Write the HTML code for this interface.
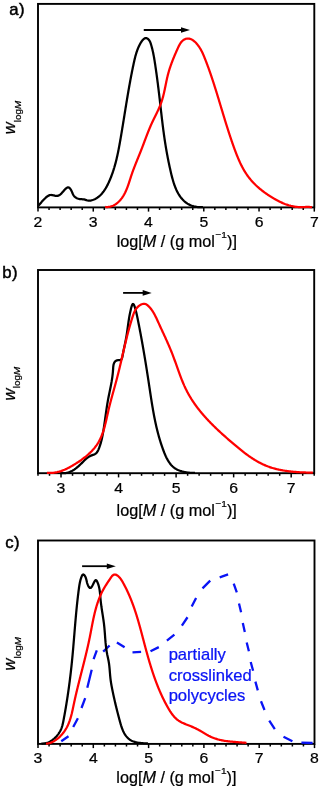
<!DOCTYPE html>
<html><head><meta charset="utf-8"><title>GPC traces</title>
<style>
html,body{margin:0;padding:0;background:#fff;}
body{width:321px;height:792px;position:relative;overflow:hidden;}
</style></head><body>
<svg width="321" height="792" viewBox="0 0 321 792" style="position:absolute;left:0;top:0">
<g font-family='"Liberation Sans", Arial, sans-serif' fill="#000" stroke="#000" stroke-width="0.22">
<rect x="38.00" y="3.90" width="276.30" height="203.50" fill="none" stroke="#000" stroke-width="1.9"/>
<line x1="38.00" y1="207.40" x2="38.00" y2="211.60" stroke="#000" stroke-width="1.5"/>
<line x1="49.05" y1="207.40" x2="49.05" y2="210.00" stroke="#000" stroke-width="1.5"/>
<line x1="60.10" y1="207.40" x2="60.10" y2="210.00" stroke="#000" stroke-width="1.5"/>
<line x1="71.16" y1="207.40" x2="71.16" y2="210.00" stroke="#000" stroke-width="1.5"/>
<line x1="82.21" y1="207.40" x2="82.21" y2="210.00" stroke="#000" stroke-width="1.5"/>
<line x1="93.26" y1="207.40" x2="93.26" y2="211.60" stroke="#000" stroke-width="1.5"/>
<line x1="104.31" y1="207.40" x2="104.31" y2="210.00" stroke="#000" stroke-width="1.5"/>
<line x1="115.36" y1="207.40" x2="115.36" y2="210.00" stroke="#000" stroke-width="1.5"/>
<line x1="126.42" y1="207.40" x2="126.42" y2="210.00" stroke="#000" stroke-width="1.5"/>
<line x1="137.47" y1="207.40" x2="137.47" y2="210.00" stroke="#000" stroke-width="1.5"/>
<line x1="148.52" y1="207.40" x2="148.52" y2="211.60" stroke="#000" stroke-width="1.5"/>
<line x1="159.57" y1="207.40" x2="159.57" y2="210.00" stroke="#000" stroke-width="1.5"/>
<line x1="170.62" y1="207.40" x2="170.62" y2="210.00" stroke="#000" stroke-width="1.5"/>
<line x1="181.68" y1="207.40" x2="181.68" y2="210.00" stroke="#000" stroke-width="1.5"/>
<line x1="192.73" y1="207.40" x2="192.73" y2="210.00" stroke="#000" stroke-width="1.5"/>
<line x1="203.78" y1="207.40" x2="203.78" y2="211.60" stroke="#000" stroke-width="1.5"/>
<line x1="214.83" y1="207.40" x2="214.83" y2="210.00" stroke="#000" stroke-width="1.5"/>
<line x1="225.88" y1="207.40" x2="225.88" y2="210.00" stroke="#000" stroke-width="1.5"/>
<line x1="236.94" y1="207.40" x2="236.94" y2="210.00" stroke="#000" stroke-width="1.5"/>
<line x1="247.99" y1="207.40" x2="247.99" y2="210.00" stroke="#000" stroke-width="1.5"/>
<line x1="259.04" y1="207.40" x2="259.04" y2="211.60" stroke="#000" stroke-width="1.5"/>
<line x1="270.09" y1="207.40" x2="270.09" y2="210.00" stroke="#000" stroke-width="1.5"/>
<line x1="281.14" y1="207.40" x2="281.14" y2="210.00" stroke="#000" stroke-width="1.5"/>
<line x1="292.20" y1="207.40" x2="292.20" y2="210.00" stroke="#000" stroke-width="1.5"/>
<line x1="303.25" y1="207.40" x2="303.25" y2="210.00" stroke="#000" stroke-width="1.5"/>
<line x1="314.30" y1="207.40" x2="314.30" y2="211.60" stroke="#000" stroke-width="1.5"/>
<text x="38.00" y="227.20" text-anchor="middle" font-size="15.2" transform="translate(38.00,0) scale(1.04,1) translate(-38.00,0)">2</text>
<text x="93.26" y="227.20" text-anchor="middle" font-size="15.2" transform="translate(93.26,0) scale(1.04,1) translate(-93.26,0)">3</text>
<text x="148.52" y="227.20" text-anchor="middle" font-size="15.2" transform="translate(148.52,0) scale(1.04,1) translate(-148.52,0)">4</text>
<text x="203.78" y="227.20" text-anchor="middle" font-size="15.2" transform="translate(203.78,0) scale(1.04,1) translate(-203.78,0)">5</text>
<text x="259.04" y="227.20" text-anchor="middle" font-size="15.2" transform="translate(259.04,0) scale(1.04,1) translate(-259.04,0)">6</text>
<text x="314.30" y="227.20" text-anchor="middle" font-size="15.2" transform="translate(314.30,0) scale(1.04,1) translate(-314.30,0)">7</text>
<text x="116.70" y="247.30" font-size="15.75" transform="translate(116.70,0) scale(1.030,1) translate(-116.70,0)">log[<tspan font-style="italic">M</tspan> / (g mol<tspan font-size="9.8" dx="0.6" dy="-9.2">&#8722;1</tspan><tspan dy="9.2">)]</tspan></text>
<text transform="translate(14.80,134.30) rotate(-90)" font-size="16.5"><tspan font-style="italic">w</tspan><tspan font-size="9.9" dy="5.8" dx="0.2">log<tspan font-style="italic">M</tspan></tspan></text>
<text x="9.20" y="15.30" font-size="16.1" stroke-width="0.45" transform="translate(9.20,0) scale(1.04,1) translate(-9.20,0)">a<tspan dx="0.5">)</tspan></text>
<path d="M38.75,205.50 L39.21,204.92 L39.67,204.35 L40.12,203.79 L40.58,203.23 L41.04,202.68 L41.50,202.13 L41.96,201.59 L42.43,201.05 L42.91,200.52 L43.40,200.00 L43.89,199.48 L44.40,198.97 L44.93,198.46 L45.47,197.96 L46.03,197.46 L46.60,196.97 L47.20,196.51 L47.81,196.07 L48.44,195.69 L49.08,195.38 L49.75,195.14 L50.43,195.00 L51.12,194.97 L51.83,195.02 L52.55,195.14 L53.27,195.30 L54.00,195.47 L54.73,195.65 L55.45,195.80 L56.17,195.91 L56.88,195.93 L57.57,195.85 L58.24,195.66 L58.89,195.37 L59.51,195.01 L60.10,194.59 L60.67,194.12 L61.21,193.62 L61.72,193.11 L62.21,192.58 L62.69,192.04 L63.17,191.48 L63.65,190.91 L64.15,190.34 L64.67,189.75 L65.21,189.17 L65.79,188.61 L66.38,188.11 L66.98,187.71 L67.58,187.46 L68.18,187.38 L68.76,187.51 L69.32,187.83 L69.85,188.30 L70.35,188.88 L70.80,189.53 L71.19,190.22 L71.54,190.92 L71.86,191.63 L72.15,192.33 L72.43,193.03 L72.72,193.72 L73.03,194.38 L73.37,195.00 L73.76,195.60 L74.19,196.15 L74.67,196.66 L75.20,197.12 L75.76,197.55 L76.35,197.92 L76.97,198.25 L77.63,198.54 L78.30,198.77 L79.00,198.95 L79.71,199.08 L80.44,199.16 L81.17,199.20 L81.91,199.22 L82.65,199.26 L83.38,199.33 L84.11,199.45 L84.82,199.63 L85.52,199.85 L86.22,200.08 L86.91,200.30 L87.61,200.50 L88.31,200.64 L89.02,200.71 L89.74,200.70 L90.46,200.61 L91.18,200.46 L91.89,200.27 L92.59,200.05 L93.27,199.80 L93.94,199.53 L94.60,199.23 L95.23,198.92 L95.86,198.58 L96.47,198.22 L97.06,197.84 L97.64,197.45 L98.21,197.03 L98.76,196.60 L99.30,196.15 L99.83,195.68 L100.34,195.20 L100.84,194.70 L101.34,194.19 L101.81,193.66 L102.28,193.12 L102.74,192.57 L103.18,192.00 L103.62,191.42 L104.04,190.83 L104.45,190.23 L104.86,189.62 L105.25,189.00 L105.64,188.38 L106.01,187.74 L106.38,187.10 L106.74,186.45 L107.09,185.79 L107.44,185.13 L107.77,184.46 L108.10,183.79 L108.42,183.11 L108.74,182.44 L109.05,181.76 L109.35,181.07 L109.65,180.39 L109.94,179.70 L110.22,179.02 L110.50,178.33 L110.78,177.64 L111.05,176.96 L111.31,176.27 L111.57,175.58 L111.83,174.89 L112.08,174.20 L112.33,173.52 L112.57,172.83 L112.80,172.14 L113.04,171.45 L113.26,170.76 L113.49,170.06 L113.71,169.37 L113.92,168.68 L114.14,167.99 L114.34,167.30 L114.55,166.60 L114.75,165.91 L114.94,165.22 L115.14,164.52 L115.33,163.83 L115.51,163.13 L115.70,162.44 L115.88,161.74 L116.05,161.05 L116.23,160.35 L116.40,159.65 L116.57,158.96 L116.73,158.26 L116.89,157.56 L117.05,156.86 L117.21,156.16 L117.36,155.46 L117.52,154.76 L117.67,154.07 L117.82,153.37 L117.96,152.66 L118.11,151.96 L118.25,151.26 L118.39,150.56 L118.53,149.86 L118.66,149.16 L118.80,148.45 L118.93,147.75 L119.06,147.05 L119.19,146.34 L119.32,145.64 L119.45,144.94 L119.58,144.23 L119.71,143.53 L119.83,142.82 L119.96,142.12 L120.08,141.41 L120.21,140.70 L120.33,140.00 L120.45,139.29 L120.57,138.58 L120.70,137.87 L120.82,137.17 L120.94,136.46 L121.06,135.75 L121.18,135.04 L121.30,134.33 L121.42,133.62 L121.54,132.91 L121.66,132.20 L121.77,131.49 L121.89,130.78 L122.01,130.07 L122.13,129.36 L122.25,128.65 L122.36,127.94 L122.48,127.23 L122.60,126.51 L122.71,125.80 L122.83,125.09 L122.95,124.38 L123.06,123.67 L123.18,122.95 L123.29,122.24 L123.41,121.53 L123.53,120.81 L123.64,120.10 L123.76,119.39 L123.87,118.67 L123.99,117.96 L124.10,117.24 L124.22,116.53 L124.33,115.82 L124.45,115.10 L124.56,114.39 L124.68,113.67 L124.79,112.96 L124.91,112.24 L125.02,111.53 L125.14,110.81 L125.26,110.10 L125.37,109.38 L125.49,108.67 L125.60,107.95 L125.72,107.24 L125.84,106.52 L125.95,105.81 L126.07,105.09 L126.19,104.38 L126.30,103.66 L126.42,102.94 L126.54,102.23 L126.66,101.51 L126.77,100.80 L126.89,100.08 L127.01,99.37 L127.13,98.65 L127.25,97.94 L127.37,97.22 L127.49,96.51 L127.61,95.79 L127.73,95.08 L127.85,94.36 L127.97,93.65 L128.10,92.93 L128.22,92.22 L128.34,91.50 L128.46,90.79 L128.59,90.07 L128.71,89.36 L128.84,88.65 L128.96,87.93 L129.09,87.22 L129.21,86.50 L129.34,85.79 L129.47,85.08 L129.60,84.36 L129.73,83.65 L129.86,82.94 L129.99,82.23 L130.12,81.51 L130.25,80.80 L130.38,80.09 L130.51,79.38 L130.64,78.66 L130.78,77.95 L130.91,77.24 L131.05,76.53 L131.19,75.82 L131.32,75.11 L131.46,74.40 L131.60,73.69 L131.74,72.98 L131.88,72.27 L132.02,71.56 L132.16,70.85 L132.30,70.14 L132.45,69.43 L132.59,68.73 L132.74,68.02 L132.88,67.31 L133.03,66.60 L133.18,65.90 L133.33,65.19 L133.48,64.48 L133.63,63.78 L133.78,63.07 L133.93,62.37 L134.09,61.66 L134.25,60.96 L134.41,60.26 L134.57,59.56 L134.74,58.86 L134.91,58.16 L135.08,57.46 L135.26,56.76 L135.44,56.07 L135.63,55.38 L135.83,54.69 L136.03,54.00 L136.24,53.31 L136.45,52.63 L136.68,51.95 L136.91,51.27 L137.14,50.59 L137.39,49.92 L137.65,49.25 L137.91,48.58 L138.18,47.92 L138.47,47.26 L138.76,46.60 L139.07,45.95 L139.38,45.30 L139.71,44.65 L140.05,44.01 L140.40,43.38 L140.77,42.75 L141.16,42.12 L141.58,41.51 L142.02,40.91 L142.49,40.33 L142.99,39.76 L143.54,39.22 L144.11,38.74 L144.71,38.36 L145.34,38.13 L145.99,38.07 L146.64,38.20 L147.29,38.48 L147.90,38.90 L148.47,39.41 L148.98,39.97 L149.41,40.57 L149.78,41.20 L150.09,41.85 L150.37,42.52 L150.61,43.21 L150.84,43.91 L151.06,44.60 L151.27,45.30 L151.47,46.00 L151.67,46.70 L151.86,47.40 L152.04,48.11 L152.22,48.81 L152.40,49.52 L152.56,50.22 L152.73,50.93 L152.88,51.64 L153.04,52.34 L153.19,53.05 L153.33,53.76 L153.47,54.47 L153.61,55.18 L153.74,55.89 L153.87,56.61 L154.00,57.32 L154.13,58.03 L154.25,58.74 L154.37,59.46 L154.48,60.17 L154.60,60.88 L154.71,61.60 L154.82,62.31 L154.93,63.02 L155.04,63.73 L155.15,64.45 L155.26,65.16 L155.37,65.87 L155.47,66.58 L155.58,67.30 L155.68,68.01 L155.79,68.72 L155.89,69.43 L155.99,70.14 L156.09,70.86 L156.19,71.57 L156.29,72.28 L156.39,72.99 L156.49,73.70 L156.59,74.41 L156.69,75.13 L156.78,75.84 L156.88,76.55 L156.98,77.26 L157.07,77.97 L157.17,78.69 L157.26,79.40 L157.36,80.11 L157.45,80.82 L157.54,81.54 L157.63,82.25 L157.72,82.96 L157.82,83.68 L157.91,84.39 L158.00,85.10 L158.09,85.82 L158.17,86.53 L158.26,87.25 L158.35,87.96 L158.44,88.68 L158.53,89.39 L158.61,90.11 L158.70,90.83 L158.79,91.54 L158.87,92.26 L158.96,92.98 L159.04,93.70 L159.13,94.42 L159.21,95.14 L159.30,95.86 L159.38,96.58 L159.47,97.30 L159.55,98.02 L159.63,98.74 L159.72,99.46 L159.80,100.19 L159.88,100.91 L159.97,101.63 L160.05,102.36 L160.13,103.08 L160.21,103.81 L160.30,104.53 L160.38,105.25 L160.46,105.98 L160.54,106.70 L160.63,107.43 L160.71,108.15 L160.79,108.88 L160.87,109.60 L160.96,110.33 L161.04,111.05 L161.12,111.78 L161.21,112.50 L161.29,113.23 L161.37,113.95 L161.46,114.68 L161.54,115.40 L161.63,116.13 L161.71,116.85 L161.80,117.58 L161.88,118.30 L161.97,119.02 L162.05,119.75 L162.14,120.47 L162.23,121.19 L162.31,121.91 L162.40,122.64 L162.49,123.36 L162.58,124.08 L162.67,124.80 L162.76,125.52 L162.85,126.24 L162.94,126.96 L163.03,127.67 L163.12,128.39 L163.21,129.11 L163.31,129.82 L163.40,130.54 L163.50,131.25 L163.59,131.97 L163.69,132.68 L163.78,133.39 L163.88,134.11 L163.98,134.82 L164.08,135.53 L164.18,136.24 L164.28,136.94 L164.38,137.65 L164.49,138.36 L164.59,139.06 L164.69,139.77 L164.80,140.47 L164.91,141.17 L165.01,141.88 L165.12,142.58 L165.23,143.28 L165.34,143.98 L165.45,144.67 L165.57,145.37 L165.68,146.07 L165.80,146.77 L165.91,147.46 L166.03,148.16 L166.15,148.86 L166.27,149.55 L166.39,150.25 L166.51,150.95 L166.63,151.64 L166.76,152.34 L166.88,153.04 L167.01,153.73 L167.14,154.43 L167.27,155.13 L167.40,155.83 L167.53,156.53 L167.67,157.23 L167.80,157.93 L167.94,158.63 L168.08,159.34 L168.22,160.04 L168.36,160.74 L168.50,161.45 L168.65,162.16 L168.80,162.87 L168.94,163.58 L169.09,164.29 L169.24,165.00 L169.40,165.72 L169.55,166.43 L169.71,167.15 L169.86,167.87 L170.02,168.59 L170.19,169.32 L170.35,170.04 L170.51,170.77 L170.68,171.50 L170.85,172.23 L171.02,172.96 L171.20,173.70 L171.37,174.43 L171.55,175.16 L171.74,175.90 L171.92,176.63 L172.11,177.36 L172.31,178.09 L172.51,178.82 L172.71,179.55 L172.92,180.27 L173.13,180.99 L173.35,181.71 L173.58,182.43 L173.80,183.14 L174.04,183.85 L174.28,184.56 L174.53,185.26 L174.78,185.95 L175.04,186.64 L175.31,187.32 L175.58,188.00 L175.86,188.67 L176.15,189.34 L176.44,190.00 L176.75,190.65 L177.06,191.29 L177.38,191.93 L177.71,192.56 L178.05,193.18 L178.39,193.79 L178.75,194.39 L179.11,194.98 L179.49,195.56 L179.87,196.13 L180.26,196.69 L180.67,197.25 L181.08,197.78 L181.51,198.31 L181.95,198.83 L182.39,199.33 L182.85,199.82 L183.32,200.30 L183.80,200.77 L184.30,201.22 L184.80,201.66 L185.32,202.08 L185.85,202.49 L186.40,202.89 L186.96,203.26 L187.53,203.63 L188.11,203.98 L188.71,204.31 L189.32,204.63 L189.94,204.92 L190.58,205.21 L191.24,205.47 L191.91,205.72 L192.59,205.95 L193.29,206.16 L194.01,206.35 L194.74,206.52 L195.48,206.67 L196.24,206.81 L197.02,206.92 L197.82,207.01 L198.63,207.08 L199.46,207.13 L200.30,207.16 L201.17,207.17 L202.05,207.16 L202.95,207.12" fill="none" stroke="#000" stroke-width="2.25" stroke-linejoin="round"/>
<path d="M105.11,206.94 L105.89,207.00 L106.65,207.03 L107.39,207.02 L108.13,206.97 L108.85,206.88 L109.57,206.76 L110.26,206.61 L110.95,206.43 L111.62,206.22 L112.28,205.97 L112.93,205.71 L113.56,205.41 L114.19,205.09 L114.79,204.74 L115.39,204.38 L115.97,203.99 L116.54,203.57 L117.09,203.15 L117.63,202.70 L118.16,202.23 L118.68,201.75 L119.18,201.26 L119.66,200.75 L120.13,200.23 L120.59,199.70 L121.03,199.16 L121.46,198.61 L121.88,198.05 L122.28,197.49 L122.67,196.91 L123.05,196.33 L123.42,195.74 L123.77,195.15 L124.12,194.54 L124.45,193.93 L124.77,193.32 L125.09,192.69 L125.39,192.06 L125.69,191.43 L125.98,190.79 L126.26,190.15 L126.53,189.50 L126.80,188.85 L127.06,188.19 L127.31,187.53 L127.56,186.87 L127.81,186.20 L128.05,185.53 L128.28,184.86 L128.51,184.18 L128.74,183.51 L128.97,182.83 L129.19,182.15 L129.41,181.47 L129.63,180.79 L129.85,180.10 L130.07,179.42 L130.29,178.74 L130.51,178.06 L130.73,177.38 L130.95,176.70 L131.17,176.02 L131.39,175.34 L131.62,174.67 L131.85,173.99 L132.08,173.32 L132.32,172.65 L132.56,171.99 L132.80,171.32 L133.04,170.65 L133.28,169.99 L133.53,169.33 L133.78,168.67 L134.03,168.01 L134.28,167.35 L134.53,166.70 L134.79,166.04 L135.04,165.39 L135.30,164.73 L135.56,164.08 L135.82,163.43 L136.08,162.78 L136.34,162.12 L136.60,161.47 L136.87,160.82 L137.13,160.17 L137.39,159.52 L137.66,158.87 L137.92,158.23 L138.19,157.58 L138.45,156.93 L138.71,156.28 L138.98,155.63 L139.24,154.98 L139.50,154.33 L139.77,153.68 L140.03,153.03 L140.29,152.37 L140.55,151.72 L140.81,151.07 L141.07,150.41 L141.32,149.76 L141.58,149.10 L141.83,148.45 L142.09,147.79 L142.34,147.13 L142.59,146.47 L142.84,145.81 L143.09,145.15 L143.34,144.49 L143.59,143.83 L143.84,143.17 L144.09,142.51 L144.33,141.85 L144.58,141.18 L144.83,140.52 L145.08,139.86 L145.33,139.20 L145.58,138.53 L145.83,137.87 L146.08,137.21 L146.33,136.55 L146.59,135.89 L146.84,135.23 L147.09,134.57 L147.35,133.91 L147.61,133.25 L147.86,132.59 L148.12,131.94 L148.39,131.28 L148.65,130.62 L148.92,129.97 L149.18,129.32 L149.45,128.66 L149.72,128.01 L150.00,127.36 L150.27,126.71 L150.55,126.07 L150.83,125.42 L151.12,124.78 L151.40,124.13 L151.69,123.49 L151.98,122.85 L152.28,122.21 L152.58,121.58 L152.88,120.94 L153.18,120.31 L153.49,119.68 L153.80,119.05 L154.10,118.42 L154.41,117.79 L154.72,117.16 L155.03,116.53 L155.34,115.90 L155.65,115.27 L155.96,114.64 L156.27,114.02 L156.58,113.39 L156.89,112.76 L157.19,112.13 L157.49,111.50 L157.79,110.86 L158.09,110.23 L158.38,109.59 L158.67,108.96 L158.95,108.32 L159.23,107.68 L159.51,107.04 L159.78,106.39 L160.05,105.75 L160.31,105.10 L160.56,104.45 L160.81,103.79 L161.05,103.13 L161.29,102.47 L161.52,101.81 L161.74,101.14 L161.95,100.47 L162.16,99.80 L162.36,99.12 L162.56,98.44 L162.75,97.76 L162.94,97.08 L163.12,96.40 L163.30,95.71 L163.47,95.02 L163.64,94.33 L163.80,93.64 L163.96,92.94 L164.12,92.25 L164.28,91.55 L164.43,90.86 L164.58,90.16 L164.73,89.46 L164.88,88.76 L165.02,88.06 L165.17,87.36 L165.31,86.66 L165.45,85.96 L165.60,85.26 L165.74,84.56 L165.88,83.86 L166.02,83.17 L166.17,82.47 L166.31,81.77 L166.46,81.08 L166.61,80.38 L166.76,79.69 L166.91,79.00 L167.06,78.31 L167.22,77.62 L167.38,76.94 L167.55,76.25 L167.71,75.57 L167.89,74.89 L168.06,74.21 L168.24,73.54 L168.42,72.87 L168.61,72.20 L168.80,71.53 L169.00,70.86 L169.20,70.20 L169.40,69.53 L169.61,68.87 L169.82,68.21 L170.04,67.55 L170.26,66.89 L170.48,66.24 L170.71,65.58 L170.94,64.92 L171.17,64.27 L171.41,63.61 L171.65,62.96 L171.90,62.30 L172.14,61.65 L172.40,61.00 L172.65,60.34 L172.91,59.68 L173.17,59.03 L173.43,58.37 L173.70,57.71 L173.97,57.06 L174.25,56.40 L174.52,55.73 L174.81,55.07 L175.09,54.41 L175.37,53.74 L175.66,53.08 L175.96,52.41 L176.25,51.74 L176.55,51.06 L176.85,50.39 L177.15,49.71 L177.46,49.03 L177.77,48.35 L178.08,47.66 L178.40,46.98 L178.72,46.30 L179.06,45.63 L179.40,44.97 L179.76,44.33 L180.13,43.71 L180.52,43.10 L180.92,42.52 L181.35,41.97 L181.80,41.45 L182.27,40.97 L182.77,40.52 L183.30,40.11 L183.85,39.75 L184.42,39.43 L185.01,39.15 L185.61,38.93 L186.23,38.75 L186.85,38.63 L187.47,38.56 L188.09,38.54 L188.71,38.58 L189.33,38.68 L189.94,38.82 L190.54,39.02 L191.14,39.26 L191.73,39.54 L192.32,39.87 L192.90,40.23 L193.47,40.63 L194.03,41.07 L194.58,41.53 L195.12,42.03 L195.65,42.55 L196.17,43.09 L196.67,43.65 L197.17,44.24 L197.65,44.84 L198.12,45.45 L198.58,46.07 L199.02,46.71 L199.44,47.35 L199.85,47.99 L200.25,48.63 L200.63,49.27 L200.99,49.91 L201.33,50.55 L201.67,51.19 L201.99,51.83 L202.30,52.47 L202.60,53.10 L202.89,53.74 L203.17,54.38 L203.45,55.01 L203.72,55.65 L203.98,56.29 L204.25,56.93 L204.50,57.57 L204.76,58.21 L205.02,58.85 L205.27,59.50 L205.53,60.14 L205.78,60.79 L206.03,61.44 L206.28,62.09 L206.53,62.74 L206.78,63.39 L207.02,64.04 L207.27,64.69 L207.51,65.35 L207.75,66.01 L207.99,66.66 L208.23,67.32 L208.47,67.98 L208.71,68.64 L208.95,69.30 L209.18,69.96 L209.42,70.63 L209.65,71.29 L209.88,71.95 L210.12,72.62 L210.35,73.28 L210.58,73.95 L210.81,74.62 L211.03,75.29 L211.26,75.96 L211.49,76.62 L211.71,77.29 L211.93,77.96 L212.16,78.64 L212.38,79.31 L212.60,79.98 L212.82,80.65 L213.04,81.32 L213.26,82.00 L213.48,82.67 L213.70,83.34 L213.91,84.02 L214.13,84.69 L214.35,85.37 L214.56,86.04 L214.77,86.72 L214.99,87.39 L215.20,88.07 L215.41,88.74 L215.62,89.42 L215.84,90.09 L216.05,90.77 L216.26,91.44 L216.47,92.12 L216.67,92.80 L216.88,93.47 L217.09,94.15 L217.30,94.82 L217.51,95.50 L217.71,96.17 L217.92,96.85 L218.12,97.52 L218.33,98.20 L218.54,98.88 L218.74,99.55 L218.95,100.23 L219.15,100.90 L219.35,101.58 L219.56,102.25 L219.76,102.93 L219.97,103.60 L220.17,104.28 L220.37,104.95 L220.58,105.63 L220.78,106.30 L220.98,106.98 L221.19,107.65 L221.39,108.33 L221.59,109.00 L221.80,109.68 L222.00,110.35 L222.20,111.03 L222.41,111.70 L222.61,112.38 L222.82,113.05 L223.02,113.73 L223.22,114.40 L223.43,115.07 L223.63,115.75 L223.84,116.42 L224.04,117.10 L224.25,117.77 L224.45,118.44 L224.66,119.12 L224.87,119.79 L225.07,120.46 L225.28,121.14 L225.49,121.81 L225.70,122.48 L225.90,123.16 L226.11,123.83 L226.32,124.50 L226.53,125.17 L226.74,125.85 L226.95,126.52 L227.17,127.19 L227.38,127.86 L227.59,128.53 L227.80,129.20 L228.02,129.88 L228.23,130.55 L228.45,131.22 L228.67,131.89 L228.88,132.56 L229.10,133.23 L229.32,133.90 L229.54,134.57 L229.76,135.24 L229.98,135.91 L230.20,136.58 L230.43,137.25 L230.65,137.92 L230.88,138.59 L231.10,139.26 L231.33,139.92 L231.56,140.59 L231.79,141.26 L232.02,141.93 L232.25,142.60 L232.48,143.26 L232.71,143.93 L232.95,144.60 L233.18,145.26 L233.42,145.93 L233.66,146.60 L233.90,147.26 L234.14,147.93 L234.38,148.59 L234.62,149.26 L234.87,149.92 L235.11,150.59 L235.36,151.25 L235.61,151.92 L235.86,152.58 L236.12,153.24 L236.37,153.90 L236.63,154.56 L236.89,155.22 L237.15,155.87 L237.42,156.53 L237.69,157.18 L237.96,157.84 L238.23,158.49 L238.51,159.14 L238.79,159.79 L239.07,160.43 L239.36,161.08 L239.65,161.72 L239.95,162.36 L240.24,163.00 L240.55,163.63 L240.85,164.27 L241.16,164.90 L241.48,165.53 L241.79,166.15 L242.12,166.77 L242.44,167.39 L242.78,168.01 L243.11,168.63 L243.46,169.24 L243.80,169.84 L244.15,170.45 L244.51,171.05 L244.87,171.65 L245.24,172.24 L245.62,172.83 L246.00,173.42 L246.38,174.00 L246.77,174.58 L247.17,175.16 L247.57,175.73 L247.98,176.30 L248.40,176.86 L248.82,177.42 L249.25,177.97 L249.69,178.52 L250.13,179.06 L250.58,179.61 L251.03,180.14 L251.49,180.67 L251.96,181.20 L252.43,181.72 L252.91,182.24 L253.39,182.76 L253.88,183.27 L254.38,183.77 L254.88,184.27 L255.38,184.77 L255.90,185.26 L256.41,185.75 L256.93,186.23 L257.46,186.71 L257.99,187.18 L258.52,187.65 L259.06,188.12 L259.60,188.58 L260.15,189.04 L260.70,189.49 L261.26,189.94 L261.82,190.39 L262.38,190.83 L262.94,191.26 L263.51,191.69 L264.09,192.12 L264.66,192.54 L265.24,192.96 L265.82,193.38 L266.41,193.79 L267.00,194.19 L267.59,194.59 L268.18,194.99 L268.78,195.38 L269.38,195.77 L269.98,196.16 L270.58,196.54 L271.18,196.91 L271.79,197.29 L272.39,197.65 L273.00,198.02 L273.61,198.38 L274.23,198.73 L274.84,199.08 L275.46,199.43 L276.07,199.77 L276.69,200.11 L277.31,200.44 L277.93,200.77 L278.55,201.09 L279.17,201.41 L279.80,201.72 L280.43,202.02 L281.06,202.32 L281.69,202.61 L282.32,202.89 L282.96,203.17 L283.60,203.44 L284.24,203.70 L284.88,203.96 L285.53,204.20 L286.18,204.44 L286.83,204.67 L287.49,204.89 L288.14,205.10 L288.80,205.31 L289.47,205.50 L290.14,205.68 L290.81,205.86 L291.48,206.02 L292.16,206.17 L292.84,206.32 L293.52,206.45 L294.21,206.57 L294.90,206.68 L295.60,206.78 L296.30,206.87 L297.00,206.94 L297.71,207.00 L298.42,207.05 L299.14,207.09 L299.86,207.12 L300.58,207.13 L301.31,207.13 L302.04,207.11 L302.78,207.09 L303.51,207.07 L304.25,207.04 L304.98,207.01 L305.71,206.99 L306.44,206.97 L307.17,206.95 L307.88,206.95 L308.60,206.96 L309.30,206.98 L309.99,207.02 L310.68,207.08 L311.35,207.16 L312.01,207.27" fill="none" stroke="#ff0000" stroke-width="2.25" stroke-linejoin="round"/>
<line x1="143.75" y1="30.00" x2="182.00" y2="30.00" stroke="#000" stroke-width="1.8"/>
<polygon points="190.00,30.00 181.00,27.20 181.00,32.80" fill="#000" stroke="none"/>
<rect x="38.00" y="270.00" width="276.20" height="203.20" fill="none" stroke="#000" stroke-width="1.9"/>
<line x1="38.00" y1="473.20" x2="38.00" y2="475.80" stroke="#000" stroke-width="1.5"/>
<line x1="49.51" y1="473.20" x2="49.51" y2="475.80" stroke="#000" stroke-width="1.5"/>
<line x1="61.02" y1="473.20" x2="61.02" y2="477.40" stroke="#000" stroke-width="1.5"/>
<line x1="72.53" y1="473.20" x2="72.53" y2="475.80" stroke="#000" stroke-width="1.5"/>
<line x1="84.03" y1="473.20" x2="84.03" y2="475.80" stroke="#000" stroke-width="1.5"/>
<line x1="95.54" y1="473.20" x2="95.54" y2="475.80" stroke="#000" stroke-width="1.5"/>
<line x1="107.05" y1="473.20" x2="107.05" y2="475.80" stroke="#000" stroke-width="1.5"/>
<line x1="118.56" y1="473.20" x2="118.56" y2="477.40" stroke="#000" stroke-width="1.5"/>
<line x1="130.07" y1="473.20" x2="130.07" y2="475.80" stroke="#000" stroke-width="1.5"/>
<line x1="141.57" y1="473.20" x2="141.57" y2="475.80" stroke="#000" stroke-width="1.5"/>
<line x1="153.08" y1="473.20" x2="153.08" y2="475.80" stroke="#000" stroke-width="1.5"/>
<line x1="164.59" y1="473.20" x2="164.59" y2="475.80" stroke="#000" stroke-width="1.5"/>
<line x1="176.10" y1="473.20" x2="176.10" y2="477.40" stroke="#000" stroke-width="1.5"/>
<line x1="187.61" y1="473.20" x2="187.61" y2="475.80" stroke="#000" stroke-width="1.5"/>
<line x1="199.12" y1="473.20" x2="199.12" y2="475.80" stroke="#000" stroke-width="1.5"/>
<line x1="210.62" y1="473.20" x2="210.62" y2="475.80" stroke="#000" stroke-width="1.5"/>
<line x1="222.13" y1="473.20" x2="222.13" y2="475.80" stroke="#000" stroke-width="1.5"/>
<line x1="233.64" y1="473.20" x2="233.64" y2="477.40" stroke="#000" stroke-width="1.5"/>
<line x1="245.15" y1="473.20" x2="245.15" y2="475.80" stroke="#000" stroke-width="1.5"/>
<line x1="256.66" y1="473.20" x2="256.66" y2="475.80" stroke="#000" stroke-width="1.5"/>
<line x1="268.17" y1="473.20" x2="268.17" y2="475.80" stroke="#000" stroke-width="1.5"/>
<line x1="279.68" y1="473.20" x2="279.68" y2="475.80" stroke="#000" stroke-width="1.5"/>
<line x1="291.18" y1="473.20" x2="291.18" y2="477.40" stroke="#000" stroke-width="1.5"/>
<line x1="302.69" y1="473.20" x2="302.69" y2="475.80" stroke="#000" stroke-width="1.5"/>
<line x1="314.20" y1="473.20" x2="314.20" y2="475.80" stroke="#000" stroke-width="1.5"/>
<text x="61.02" y="492.90" text-anchor="middle" font-size="15.2" transform="translate(61.02,0) scale(1.04,1) translate(-61.02,0)">3</text>
<text x="118.56" y="492.90" text-anchor="middle" font-size="15.2" transform="translate(118.56,0) scale(1.04,1) translate(-118.56,0)">4</text>
<text x="176.10" y="492.90" text-anchor="middle" font-size="15.2" transform="translate(176.10,0) scale(1.04,1) translate(-176.10,0)">5</text>
<text x="233.64" y="492.90" text-anchor="middle" font-size="15.2" transform="translate(233.64,0) scale(1.04,1) translate(-233.64,0)">6</text>
<text x="291.18" y="492.90" text-anchor="middle" font-size="15.2" transform="translate(291.18,0) scale(1.04,1) translate(-291.18,0)">7</text>
<text x="116.60" y="516.00" font-size="15.75" transform="translate(116.60,0) scale(1.030,1) translate(-116.60,0)">log[<tspan font-style="italic">M</tspan> / (g mol<tspan font-size="9.8" dx="0.6" dy="-9.2">&#8722;1</tspan><tspan dy="9.2">)]</tspan></text>
<text transform="translate(14.60,400.40) rotate(-90)" font-size="16.5"><tspan font-style="italic">w</tspan><tspan font-size="9.9" dy="5.8" dx="0.2">log<tspan font-style="italic">M</tspan></tspan></text>
<text x="2.30" y="277.90" font-size="16.1" stroke-width="0.45" transform="translate(2.30,0) scale(1.04,1) translate(-2.30,0)">b<tspan dx="0.5">)</tspan></text>
<path d="M60.14,472.95 L60.87,473.06 L61.58,473.14 L62.28,473.19 L62.97,473.21 L63.66,473.20 L64.33,473.17 L64.99,473.11 L65.65,473.03 L66.29,472.93 L66.93,472.80 L67.56,472.65 L68.18,472.48 L68.79,472.28 L69.39,472.07 L69.99,471.84 L70.57,471.58 L71.15,471.31 L71.73,471.03 L72.29,470.73 L72.85,470.41 L73.40,470.07 L73.95,469.73 L74.49,469.37 L75.02,468.99 L75.55,468.61 L76.07,468.21 L76.59,467.81 L77.10,467.39 L77.61,466.96 L78.11,466.53 L78.61,466.09 L79.10,465.65 L79.59,465.19 L80.08,464.74 L80.56,464.28 L81.04,463.81 L81.51,463.34 L81.98,462.87 L82.45,462.40 L82.92,461.93 L83.38,461.46 L83.84,460.99 L84.31,460.53 L84.78,460.07 L85.25,459.62 L85.72,459.18 L86.21,458.75 L86.70,458.33 L87.20,457.92 L87.71,457.53 L88.23,457.15 L88.77,456.80 L89.33,456.46 L89.90,456.15 L90.48,455.85 L91.09,455.59 L91.72,455.35 L92.36,455.12 L93.00,454.90 L93.64,454.67 L94.26,454.43 L94.85,454.15 L95.41,453.82 L95.92,453.45 L96.38,453.01 L96.80,452.53 L97.19,452.01 L97.54,451.45 L97.86,450.87 L98.16,450.26 L98.44,449.64 L98.70,449.00 L98.95,448.37 L99.20,447.74 L99.43,447.11 L99.66,446.47 L99.88,445.84 L100.09,445.21 L100.29,444.58 L100.49,443.95 L100.67,443.32 L100.86,442.68 L101.03,442.05 L101.20,441.42 L101.36,440.79 L101.52,440.16 L101.67,439.52 L101.82,438.89 L101.96,438.26 L102.10,437.62 L102.23,436.98 L102.36,436.35 L102.49,435.71 L102.61,435.07 L102.73,434.43 L102.85,433.79 L102.97,433.15 L103.08,432.51 L103.19,431.87 L103.30,431.22 L103.41,430.58 L103.52,429.93 L103.62,429.28 L103.72,428.64 L103.83,427.99 L103.93,427.34 L104.02,426.68 L104.12,426.03 L104.22,425.38 L104.32,424.73 L104.41,424.07 L104.51,423.42 L104.60,422.76 L104.69,422.11 L104.79,421.45 L104.88,420.80 L104.97,420.14 L105.06,419.48 L105.15,418.83 L105.24,418.17 L105.33,417.51 L105.42,416.85 L105.51,416.20 L105.60,415.54 L105.69,414.88 L105.78,414.22 L105.88,413.57 L105.97,412.91 L106.06,412.25 L106.15,411.60 L106.25,410.94 L106.34,410.29 L106.44,409.63 L106.53,408.98 L106.63,408.32 L106.73,407.67 L106.83,407.02 L106.93,406.36 L107.03,405.71 L107.13,405.06 L107.24,404.41 L107.34,403.76 L107.45,403.12 L107.56,402.47 L107.67,401.83 L107.78,401.18 L107.90,400.54 L108.01,399.90 L108.13,399.25 L108.25,398.61 L108.37,397.98 L108.50,397.34 L108.62,396.70 L108.75,396.07 L108.88,395.43 L109.01,394.80 L109.14,394.16 L109.27,393.53 L109.40,392.89 L109.53,392.26 L109.66,391.62 L109.79,390.99 L109.92,390.36 L110.05,389.72 L110.18,389.09 L110.31,388.45 L110.44,387.81 L110.57,387.18 L110.69,386.54 L110.82,385.90 L110.94,385.26 L111.06,384.62 L111.18,383.98 L111.30,383.33 L111.42,382.69 L111.53,382.04 L111.65,381.39 L111.75,380.74 L111.86,380.09 L111.97,379.44 L112.07,378.78 L112.16,378.12 L112.26,377.46 L112.35,376.80 L112.44,376.13 L112.52,375.46 L112.60,374.79 L112.68,374.12 L112.75,373.44 L112.81,372.76 L112.88,372.08 L112.93,371.39 L112.99,370.70 L113.03,370.00 L113.08,369.31 L113.12,368.61 L113.16,367.91 L113.21,367.22 L113.28,366.54 L113.36,365.88 L113.46,365.23 L113.59,364.60 L113.75,363.99 L113.94,363.41 L114.18,362.86 L114.46,362.34 L114.79,361.86 L115.17,361.42 L115.61,361.03 L116.11,360.70 L116.65,360.44 L117.24,360.27 L117.86,360.19 L118.49,360.16 L119.11,360.14 L119.71,360.11 L120.27,360.02 L120.76,359.84 L121.18,359.55 L121.52,359.15 L121.80,358.67 L122.04,358.11 L122.23,357.49 L122.38,356.83 L122.52,356.14 L122.65,355.44 L122.77,354.74 L122.90,354.05 L123.03,353.37 L123.15,352.69 L123.28,352.02 L123.42,351.35 L123.55,350.69 L123.68,350.03 L123.81,349.38 L123.95,348.73 L124.08,348.09 L124.21,347.45 L124.35,346.81 L124.48,346.17 L124.61,345.54 L124.75,344.91 L124.88,344.28 L125.01,343.65 L125.14,343.02 L125.27,342.38 L125.40,341.75 L125.53,341.12 L125.65,340.49 L125.77,339.85 L125.90,339.21 L126.02,338.57 L126.13,337.92 L126.25,337.28 L126.36,336.62 L126.47,335.97 L126.58,335.31 L126.69,334.64 L126.80,333.98 L126.90,333.31 L127.00,332.64 L127.10,331.98 L127.20,331.31 L127.29,330.64 L127.39,329.97 L127.48,329.31 L127.57,328.64 L127.66,327.98 L127.75,327.32 L127.84,326.67 L127.93,326.02 L128.02,325.38 L128.10,324.74 L128.19,324.10 L128.28,323.48 L128.36,322.86 L128.45,322.24 L128.54,321.63 L128.63,321.01 L128.72,320.40 L128.81,319.79 L128.90,319.18 L129.00,318.56 L129.11,317.94 L129.21,317.31 L129.32,316.68 L129.44,316.03 L129.56,315.38 L129.68,314.71 L129.82,314.04 L129.96,313.35 L130.10,312.64 L130.26,311.92 L130.42,311.18 L130.59,310.42 L130.77,309.64 L130.96,308.84 L131.16,308.05 L131.36,307.27 L131.58,306.53 L131.80,305.85 L132.03,305.24 L132.26,304.74 L132.50,304.34 L132.75,304.09 L133.01,303.98 L133.26,304.05 L133.52,304.28 L133.79,304.65 L134.05,305.13 L134.31,305.72 L134.56,306.39 L134.81,307.11 L135.06,307.88 L135.29,308.67 L135.51,309.46 L135.72,310.23 L135.91,310.97 L136.09,311.69 L136.26,312.40 L136.43,313.08 L136.58,313.75 L136.73,314.41 L136.87,315.05 L137.00,315.69 L137.14,316.33 L137.27,316.96 L137.40,317.59 L137.53,318.22 L137.66,318.85 L137.79,319.49 L137.92,320.12 L138.04,320.76 L138.17,321.39 L138.30,322.02 L138.43,322.66 L138.55,323.30 L138.68,323.93 L138.81,324.57 L138.93,325.21 L139.06,325.84 L139.18,326.48 L139.31,327.12 L139.43,327.76 L139.55,328.40 L139.68,329.04 L139.80,329.68 L139.92,330.32 L140.04,330.96 L140.17,331.60 L140.29,332.24 L140.41,332.88 L140.53,333.52 L140.65,334.17 L140.77,334.81 L140.89,335.45 L141.01,336.10 L141.13,336.74 L141.24,337.38 L141.36,338.03 L141.48,338.67 L141.60,339.32 L141.71,339.96 L141.83,340.61 L141.95,341.25 L142.06,341.90 L142.18,342.55 L142.29,343.19 L142.41,343.84 L142.52,344.49 L142.64,345.13 L142.75,345.78 L142.87,346.43 L142.98,347.08 L143.09,347.73 L143.20,348.37 L143.32,349.02 L143.43,349.67 L143.54,350.32 L143.65,350.97 L143.76,351.62 L143.87,352.27 L143.98,352.92 L144.09,353.57 L144.20,354.22 L144.31,354.87 L144.42,355.52 L144.53,356.17 L144.64,356.82 L144.75,357.47 L144.86,358.12 L144.97,358.77 L145.07,359.42 L145.18,360.07 L145.29,360.73 L145.39,361.38 L145.50,362.03 L145.61,362.68 L145.71,363.33 L145.82,363.98 L145.92,364.63 L146.03,365.29 L146.13,365.94 L146.24,366.59 L146.34,367.24 L146.45,367.89 L146.55,368.55 L146.65,369.20 L146.76,369.85 L146.86,370.50 L146.96,371.15 L147.07,371.81 L147.17,372.46 L147.27,373.11 L147.37,373.76 L147.47,374.41 L147.58,375.07 L147.68,375.72 L147.78,376.37 L147.88,377.02 L147.98,377.67 L148.08,378.32 L148.18,378.98 L148.28,379.63 L148.38,380.28 L148.48,380.93 L148.58,381.58 L148.68,382.23 L148.78,382.88 L148.87,383.53 L148.97,384.18 L149.07,384.84 L149.17,385.49 L149.27,386.14 L149.36,386.79 L149.46,387.44 L149.56,388.09 L149.66,388.74 L149.75,389.39 L149.85,390.04 L149.95,390.68 L150.05,391.33 L150.15,391.98 L150.24,392.63 L150.34,393.28 L150.44,393.93 L150.54,394.58 L150.64,395.23 L150.73,395.87 L150.83,396.52 L150.93,397.17 L151.03,397.82 L151.13,398.47 L151.23,399.11 L151.34,399.76 L151.44,400.41 L151.54,401.05 L151.64,401.70 L151.74,402.35 L151.85,402.99 L151.95,403.64 L152.06,404.29 L152.16,404.93 L152.27,405.58 L152.38,406.22 L152.49,406.87 L152.60,407.51 L152.71,408.16 L152.82,408.80 L152.93,409.45 L153.04,410.09 L153.15,410.74 L153.27,411.38 L153.38,412.02 L153.50,412.67 L153.62,413.31 L153.74,413.95 L153.86,414.60 L153.98,415.24 L154.10,415.88 L154.22,416.53 L154.35,417.17 L154.47,417.81 L154.60,418.45 L154.73,419.09 L154.86,419.74 L154.99,420.38 L155.13,421.02 L155.26,421.66 L155.40,422.30 L155.53,422.94 L155.67,423.58 L155.81,424.22 L155.96,424.86 L156.10,425.50 L156.25,426.14 L156.39,426.78 L156.54,427.42 L156.69,428.06 L156.85,428.70 L157.00,429.33 L157.16,429.97 L157.32,430.61 L157.48,431.25 L157.64,431.88 L157.80,432.52 L157.97,433.16 L158.14,433.80 L158.31,434.43 L158.48,435.07 L158.66,435.70 L158.83,436.34 L159.01,436.98 L159.19,437.61 L159.38,438.25 L159.56,438.88 L159.75,439.52 L159.94,440.15 L160.13,440.78 L160.33,441.42 L160.53,442.05 L160.73,442.68 L160.93,443.32 L161.13,443.95 L161.34,444.58 L161.55,445.22 L161.77,445.85 L161.98,446.48 L162.20,447.11 L162.42,447.74 L162.64,448.37 L162.87,449.00 L163.10,449.63 L163.33,450.27 L163.57,450.89 L163.81,451.52 L164.05,452.15 L164.29,452.78 L164.54,453.40 L164.80,454.02 L165.06,454.64 L165.33,455.25 L165.60,455.86 L165.87,456.47 L166.16,457.07 L166.45,457.66 L166.74,458.25 L167.05,458.84 L167.36,459.41 L167.68,459.98 L168.01,460.54 L168.35,461.09 L168.70,461.64 L169.05,462.17 L169.42,462.70 L169.79,463.21 L170.18,463.72 L170.58,464.21 L170.99,464.70 L171.41,465.17 L171.84,465.63 L172.28,466.07 L172.74,466.50 L173.21,466.92 L173.69,467.33 L174.18,467.72 L174.69,468.09 L175.22,468.45 L175.76,468.80 L176.31,469.12 L176.88,469.43 L177.46,469.73 L178.05,470.01 L178.66,470.27 L179.28,470.52 L179.91,470.75 L180.55,470.97 L181.19,471.17 L181.84,471.37 L182.50,471.54 L183.17,471.71 L183.84,471.86 L184.51,472.00 L185.19,472.13 L185.86,472.25 L186.54,472.36 L187.22,472.46 L187.89,472.54 L188.57,472.62 L189.24,472.69 L189.90,472.75 L190.56,472.80 L191.22,472.84 L191.87,472.88 L192.51,472.91 L193.14,472.93 L193.76,472.94 L194.37,472.95 L194.97,472.95" fill="none" stroke="#000" stroke-width="2.25" stroke-linejoin="round"/>
<path d="M46.91,472.86 L47.75,472.92 L48.58,472.95 L49.40,472.97 L50.21,472.97 L51.02,472.95 L51.82,472.91 L52.61,472.85 L53.40,472.77 L54.17,472.67 L54.95,472.56 L55.71,472.43 L56.47,472.29 L57.23,472.13 L57.98,471.95 L58.72,471.76 L59.46,471.55 L60.19,471.33 L60.92,471.10 L61.64,470.85 L62.36,470.59 L63.07,470.32 L63.79,470.03 L64.49,469.74 L65.19,469.43 L65.89,469.11 L66.59,468.79 L67.28,468.45 L67.97,468.11 L68.66,467.75 L69.35,467.39 L70.03,467.02 L70.71,466.64 L71.39,466.26 L72.07,465.87 L72.74,465.47 L73.42,465.07 L74.09,464.66 L74.76,464.25 L75.43,463.84 L76.10,463.42 L76.77,462.99 L77.43,462.56 L78.10,462.13 L78.76,461.69 L79.42,461.24 L80.07,460.79 L80.73,460.34 L81.37,459.88 L82.02,459.42 L82.66,458.95 L83.30,458.47 L83.93,457.99 L84.55,457.50 L85.17,457.01 L85.79,456.52 L86.40,456.01 L87.00,455.50 L87.60,454.99 L88.19,454.47 L88.77,453.95 L89.35,453.41 L89.92,452.88 L90.48,452.33 L91.03,451.78 L91.58,451.23 L92.11,450.67 L92.64,450.10 L93.16,449.52 L93.67,448.94 L94.17,448.36 L94.66,447.76 L95.13,447.16 L95.60,446.55 L96.06,445.94 L96.51,445.32 L96.94,444.69 L97.36,444.06 L97.77,443.41 L98.17,442.77 L98.56,442.11 L98.94,441.45 L99.30,440.78 L99.65,440.11 L100.00,439.42 L100.33,438.74 L100.65,438.05 L100.96,437.35 L101.27,436.64 L101.56,435.94 L101.85,435.22 L102.13,434.50 L102.40,433.78 L102.66,433.05 L102.91,432.32 L103.16,431.59 L103.40,430.85 L103.64,430.11 L103.86,429.36 L104.09,428.61 L104.30,427.86 L104.51,427.10 L104.72,426.34 L104.92,425.58 L105.12,424.82 L105.31,424.05 L105.51,423.29 L105.69,422.52 L105.88,421.75 L106.06,420.97 L106.24,420.20 L106.41,419.43 L106.59,418.65 L106.76,417.88 L106.94,417.10 L107.11,416.32 L107.28,415.55 L107.45,414.77 L107.62,413.99 L107.80,413.22 L107.97,412.44 L108.14,411.67 L108.32,410.90 L108.50,410.12 L108.68,409.35 L108.86,408.59 L109.04,407.82 L109.23,407.05 L109.42,406.29 L109.61,405.52 L109.80,404.76 L109.99,404.00 L110.19,403.24 L110.38,402.48 L110.58,401.72 L110.78,400.96 L110.98,400.21 L111.18,399.45 L111.38,398.70 L111.58,397.94 L111.79,397.19 L111.99,396.44 L112.20,395.69 L112.40,394.94 L112.61,394.19 L112.82,393.44 L113.02,392.69 L113.23,391.94 L113.44,391.19 L113.65,390.44 L113.86,389.69 L114.06,388.95 L114.27,388.20 L114.48,387.45 L114.68,386.70 L114.89,385.96 L115.10,385.21 L115.30,384.46 L115.51,383.72 L115.71,382.97 L115.91,382.22 L116.12,381.47 L116.32,380.73 L116.52,379.98 L116.72,379.23 L116.91,378.48 L117.11,377.73 L117.30,376.98 L117.50,376.23 L117.69,375.48 L117.88,374.73 L118.07,373.98 L118.26,373.22 L118.45,372.47 L118.63,371.72 L118.82,370.97 L119.00,370.21 L119.19,369.46 L119.37,368.70 L119.55,367.95 L119.73,367.19 L119.91,366.44 L120.09,365.68 L120.27,364.93 L120.45,364.17 L120.63,363.42 L120.80,362.66 L120.98,361.90 L121.16,361.14 L121.34,360.39 L121.51,359.63 L121.69,358.87 L121.86,358.11 L122.04,357.35 L122.22,356.60 L122.39,355.84 L122.57,355.08 L122.74,354.32 L122.92,353.56 L123.10,352.80 L123.27,352.04 L123.45,351.28 L123.63,350.52 L123.80,349.76 L123.98,349.00 L124.16,348.24 L124.34,347.48 L124.52,346.72 L124.70,345.96 L124.88,345.20 L125.06,344.44 L125.24,343.68 L125.43,342.92 L125.61,342.16 L125.79,341.40 L125.98,340.64 L126.17,339.88 L126.36,339.11 L126.54,338.35 L126.73,337.59 L126.93,336.83 L127.12,336.07 L127.31,335.31 L127.51,334.55 L127.71,333.79 L127.90,333.03 L128.10,332.27 L128.30,331.51 L128.51,330.75 L128.71,329.99 L128.92,329.23 L129.13,328.47 L129.34,327.71 L129.55,326.96 L129.76,326.20 L129.98,325.44 L130.20,324.68 L130.41,323.92 L130.64,323.16 L130.86,322.41 L131.09,321.65 L131.31,320.89 L131.55,320.13 L131.78,319.38 L132.01,318.62 L132.25,317.86 L132.49,317.11 L132.74,316.35 L132.98,315.60 L133.24,314.85 L133.51,314.11 L133.79,313.38 L134.08,312.65 L134.40,311.94 L134.73,311.24 L135.08,310.55 L135.46,309.89 L135.87,309.24 L136.30,308.61 L136.77,308.00 L137.27,307.41 L137.81,306.86 L138.38,306.33 L139.00,305.82 L139.66,305.35 L140.35,304.93 L141.07,304.55 L141.80,304.24 L142.55,304.00 L143.29,303.85 L144.03,303.80 L144.74,303.85 L145.44,304.02 L146.10,304.30 L146.74,304.67 L147.35,305.11 L147.94,305.60 L148.51,306.14 L149.05,306.68 L149.59,307.25 L150.10,307.83 L150.60,308.43 L151.08,309.04 L151.54,309.66 L151.99,310.29 L152.43,310.94 L152.85,311.59 L153.27,312.26 L153.67,312.93 L154.06,313.62 L154.44,314.31 L154.81,315.00 L155.18,315.71 L155.53,316.42 L155.89,317.13 L156.23,317.85 L156.57,318.57 L156.91,319.29 L157.24,320.01 L157.57,320.74 L157.90,321.46 L158.23,322.18 L158.56,322.91 L158.89,323.63 L159.21,324.35 L159.54,325.06 L159.87,325.78 L160.20,326.49 L160.53,327.21 L160.86,327.92 L161.19,328.63 L161.51,329.34 L161.84,330.05 L162.17,330.75 L162.49,331.46 L162.82,332.17 L163.15,332.87 L163.47,333.58 L163.80,334.28 L164.12,334.98 L164.44,335.69 L164.76,336.39 L165.09,337.09 L165.41,337.80 L165.73,338.50 L166.04,339.20 L166.36,339.91 L166.68,340.61 L166.99,341.31 L167.31,342.02 L167.62,342.72 L167.93,343.43 L168.24,344.14 L168.55,344.84 L168.85,345.55 L169.16,346.26 L169.46,346.97 L169.76,347.68 L170.06,348.39 L170.36,349.11 L170.66,349.82 L170.95,350.54 L171.25,351.26 L171.54,351.98 L171.82,352.70 L172.11,353.42 L172.39,354.15 L172.68,354.87 L172.96,355.60 L173.23,356.33 L173.51,357.07 L173.78,357.80 L174.05,358.54 L174.32,359.27 L174.59,360.01 L174.86,360.75 L175.13,361.49 L175.39,362.24 L175.66,362.98 L175.92,363.72 L176.19,364.47 L176.45,365.21 L176.72,365.96 L176.98,366.70 L177.24,367.45 L177.51,368.20 L177.77,368.94 L178.04,369.69 L178.31,370.44 L178.57,371.18 L178.84,371.93 L179.11,372.67 L179.38,373.41 L179.65,374.16 L179.93,374.90 L180.21,375.64 L180.48,376.38 L180.76,377.12 L181.05,377.86 L181.33,378.59 L181.62,379.33 L181.91,380.06 L182.20,380.79 L182.50,381.52 L182.80,382.25 L183.10,382.97 L183.41,383.70 L183.72,384.42 L184.04,385.13 L184.35,385.85 L184.68,386.56 L185.00,387.27 L185.33,387.98 L185.67,388.68 L186.01,389.38 L186.36,390.08 L186.71,390.77 L187.06,391.46 L187.42,392.15 L187.79,392.84 L188.16,393.52 L188.54,394.19 L188.92,394.87 L189.30,395.54 L189.69,396.21 L190.08,396.87 L190.48,397.53 L190.89,398.19 L191.29,398.85 L191.71,399.50 L192.12,400.15 L192.54,400.80 L192.97,401.44 L193.40,402.08 L193.83,402.72 L194.27,403.36 L194.71,403.99 L195.16,404.62 L195.61,405.25 L196.06,405.87 L196.52,406.49 L196.98,407.11 L197.45,407.73 L197.92,408.34 L198.39,408.95 L198.86,409.56 L199.34,410.17 L199.83,410.77 L200.31,411.37 L200.80,411.97 L201.30,412.57 L201.79,413.16 L202.29,413.76 L202.80,414.35 L203.30,414.93 L203.81,415.52 L204.32,416.10 L204.84,416.68 L205.36,417.26 L205.88,417.84 L206.40,418.41 L206.93,418.99 L207.46,419.56 L207.99,420.13 L208.53,420.69 L209.06,421.26 L209.60,421.82 L210.15,422.38 L210.69,422.94 L211.24,423.50 L211.79,424.06 L212.34,424.61 L212.89,425.16 L213.45,425.72 L214.01,426.26 L214.57,426.81 L215.13,427.36 L215.70,427.90 L216.26,428.45 L216.83,428.99 L217.40,429.53 L217.97,430.07 L218.55,430.60 L219.12,431.14 L219.70,431.67 L220.28,432.21 L220.85,432.74 L221.44,433.27 L222.02,433.80 L222.60,434.33 L223.19,434.86 L223.77,435.38 L224.36,435.91 L224.95,436.43 L225.54,436.96 L226.13,437.48 L226.72,438.00 L227.32,438.52 L227.91,439.04 L228.50,439.56 L229.10,440.07 L229.69,440.59 L230.29,441.11 L230.89,441.62 L231.49,442.14 L232.08,442.65 L232.68,443.16 L233.28,443.68 L233.88,444.19 L234.48,444.70 L235.08,445.21 L235.69,445.72 L236.29,446.22 L236.89,446.73 L237.50,447.23 L238.10,447.73 L238.71,448.23 L239.32,448.73 L239.93,449.23 L240.54,449.72 L241.15,450.21 L241.76,450.70 L242.38,451.18 L242.99,451.67 L243.61,452.15 L244.23,452.62 L244.85,453.10 L245.47,453.57 L246.10,454.03 L246.72,454.50 L247.35,454.95 L247.98,455.41 L248.62,455.86 L249.25,456.31 L249.89,456.75 L250.53,457.19 L251.17,457.62 L251.82,458.05 L252.46,458.47 L253.11,458.89 L253.76,459.30 L254.42,459.71 L255.08,460.11 L255.74,460.51 L256.40,460.90 L257.07,461.29 L257.74,461.66 L258.41,462.04 L259.09,462.41 L259.77,462.77 L260.45,463.12 L261.14,463.47 L261.83,463.81 L262.52,464.14 L263.22,464.47 L263.92,464.79 L264.62,465.10 L265.33,465.40 L266.04,465.70 L266.76,465.99 L267.48,466.27 L268.20,466.55 L268.93,466.81 L269.66,467.07 L270.40,467.32 L271.14,467.56 L271.88,467.80 L272.63,468.02 L273.38,468.24 L274.13,468.46 L274.89,468.66 L275.65,468.86 L276.41,469.05 L277.17,469.24 L277.94,469.42 L278.71,469.59 L279.48,469.75 L280.25,469.91 L281.03,470.07 L281.80,470.22 L282.58,470.36 L283.36,470.49 L284.14,470.62 L284.93,470.75 L285.71,470.87 L286.50,470.98 L287.28,471.09 L288.07,471.20 L288.86,471.30 L289.65,471.39 L290.44,471.48 L291.22,471.57 L292.01,471.65 L292.80,471.73 L293.59,471.80 L294.38,471.87 L295.17,471.93 L295.96,471.99 L296.74,472.05 L297.53,472.11 L298.31,472.16 L299.10,472.20 L299.88,472.25 L300.66,472.29 L301.44,472.33 L302.22,472.36 L303.00,472.40 L303.77,472.43 L304.55,472.45 L305.32,472.48 L306.09,472.50 L306.85,472.52 L307.62,472.54 L308.38,472.56 L309.14,472.58 L309.89,472.59 L310.65,472.60 L311.40,472.61 L312.14,472.63 L312.89,472.63" fill="none" stroke="#ff0000" stroke-width="2.25" stroke-linejoin="round"/>
<line x1="123.10" y1="292.90" x2="143.70" y2="292.90" stroke="#000" stroke-width="1.8"/>
<polygon points="151.70,292.90 142.70,290.10 142.70,295.70" fill="#000" stroke="none"/>
<rect x="38.00" y="540.50" width="276.50" height="203.40" fill="none" stroke="#000" stroke-width="1.9"/>
<line x1="38.00" y1="743.90" x2="38.00" y2="748.10" stroke="#000" stroke-width="1.5"/>
<line x1="49.06" y1="743.90" x2="49.06" y2="746.50" stroke="#000" stroke-width="1.5"/>
<line x1="60.12" y1="743.90" x2="60.12" y2="746.50" stroke="#000" stroke-width="1.5"/>
<line x1="71.18" y1="743.90" x2="71.18" y2="746.50" stroke="#000" stroke-width="1.5"/>
<line x1="82.24" y1="743.90" x2="82.24" y2="746.50" stroke="#000" stroke-width="1.5"/>
<line x1="93.30" y1="743.90" x2="93.30" y2="748.10" stroke="#000" stroke-width="1.5"/>
<line x1="104.36" y1="743.90" x2="104.36" y2="746.50" stroke="#000" stroke-width="1.5"/>
<line x1="115.42" y1="743.90" x2="115.42" y2="746.50" stroke="#000" stroke-width="1.5"/>
<line x1="126.48" y1="743.90" x2="126.48" y2="746.50" stroke="#000" stroke-width="1.5"/>
<line x1="137.54" y1="743.90" x2="137.54" y2="746.50" stroke="#000" stroke-width="1.5"/>
<line x1="148.60" y1="743.90" x2="148.60" y2="748.10" stroke="#000" stroke-width="1.5"/>
<line x1="159.66" y1="743.90" x2="159.66" y2="746.50" stroke="#000" stroke-width="1.5"/>
<line x1="170.72" y1="743.90" x2="170.72" y2="746.50" stroke="#000" stroke-width="1.5"/>
<line x1="181.78" y1="743.90" x2="181.78" y2="746.50" stroke="#000" stroke-width="1.5"/>
<line x1="192.84" y1="743.90" x2="192.84" y2="746.50" stroke="#000" stroke-width="1.5"/>
<line x1="203.90" y1="743.90" x2="203.90" y2="748.10" stroke="#000" stroke-width="1.5"/>
<line x1="214.96" y1="743.90" x2="214.96" y2="746.50" stroke="#000" stroke-width="1.5"/>
<line x1="226.02" y1="743.90" x2="226.02" y2="746.50" stroke="#000" stroke-width="1.5"/>
<line x1="237.08" y1="743.90" x2="237.08" y2="746.50" stroke="#000" stroke-width="1.5"/>
<line x1="248.14" y1="743.90" x2="248.14" y2="746.50" stroke="#000" stroke-width="1.5"/>
<line x1="259.20" y1="743.90" x2="259.20" y2="748.10" stroke="#000" stroke-width="1.5"/>
<line x1="270.26" y1="743.90" x2="270.26" y2="746.50" stroke="#000" stroke-width="1.5"/>
<line x1="281.32" y1="743.90" x2="281.32" y2="746.50" stroke="#000" stroke-width="1.5"/>
<line x1="292.38" y1="743.90" x2="292.38" y2="746.50" stroke="#000" stroke-width="1.5"/>
<line x1="303.44" y1="743.90" x2="303.44" y2="746.50" stroke="#000" stroke-width="1.5"/>
<line x1="314.50" y1="743.90" x2="314.50" y2="748.10" stroke="#000" stroke-width="1.5"/>
<text x="38.00" y="763.40" text-anchor="middle" font-size="15.2" transform="translate(38.00,0) scale(1.04,1) translate(-38.00,0)">3</text>
<text x="93.30" y="763.40" text-anchor="middle" font-size="15.2" transform="translate(93.30,0) scale(1.04,1) translate(-93.30,0)">4</text>
<text x="148.60" y="763.40" text-anchor="middle" font-size="15.2" transform="translate(148.60,0) scale(1.04,1) translate(-148.60,0)">5</text>
<text x="203.90" y="763.40" text-anchor="middle" font-size="15.2" transform="translate(203.90,0) scale(1.04,1) translate(-203.90,0)">6</text>
<text x="259.20" y="763.40" text-anchor="middle" font-size="15.2" transform="translate(259.20,0) scale(1.04,1) translate(-259.20,0)">7</text>
<text x="314.50" y="763.40" text-anchor="middle" font-size="15.2" transform="translate(314.50,0) scale(1.04,1) translate(-314.50,0)">8</text>
<text x="116.30" y="783.40" font-size="15.75" transform="translate(116.30,0) scale(1.030,1) translate(-116.30,0)">log[<tspan font-style="italic">M</tspan> / (g mol<tspan font-size="9.8" dx="0.6" dy="-9.2">&#8722;1</tspan><tspan dy="9.2">)]</tspan></text>
<text transform="translate(14.80,670.60) rotate(-90)" font-size="16.5"><tspan font-style="italic">w</tspan><tspan font-size="9.9" dy="5.8" dx="0.2">log<tspan font-style="italic">M</tspan></tspan></text>
<text x="5.20" y="547.60" font-size="16.1" stroke-width="0.45" transform="translate(5.20,0) scale(1.04,1) translate(-5.20,0)">c<tspan dx="0.5">)</tspan></text>
<path d="M61.25,741.25 L68.50,736.25 M73.20,727.00 L77.90,718.20 M81.50,708.00 L85.20,698.20 M87.30,687.70 L91.70,669.80 M93.60,659.10 L96.80,650.40 M103.20,651.70 L109.60,645.50 M116.90,642.50 L124.60,647.30 M132.50,652.30 L141.10,651.90 M150.50,651.20 L158.80,647.10 M166.90,640.60 L174.40,634.60 M181.90,625.60 L187.50,617.25 M191.70,606.60 L196.10,597.90 M202.50,588.40 L210.20,580.60 M219.70,577.30 L228.10,574.30 M233.70,583.70 L236.80,592.40 M239.00,603.60 L241.10,612.20 M242.80,622.90 L244.80,632.10 M246.70,642.50 L248.90,651.20 M250.70,662.00 L253.10,670.80 M255.40,681.60 L257.80,690.40 M261.00,701.25 L264.50,710.00 M269.25,720.60 L274.80,729.20 M283.50,736.70 L292.40,741.20 M301.40,742.70 L312.60,743.00" fill="none" stroke="#0a14f5" stroke-width="2.3" stroke-linecap="butt"/>
<path d="M41.47,743.46 L42.19,743.50 L42.90,743.50 L43.59,743.48 L44.26,743.42 L44.92,743.34 L45.57,743.22 L46.20,743.08 L46.82,742.91 L47.43,742.72 L48.02,742.50 L48.60,742.26 L49.18,742.00 L49.74,741.71 L50.29,741.40 L50.84,741.08 L51.37,740.73 L51.90,740.37 L52.42,739.99 L52.94,739.59 L53.45,739.18 L53.95,738.76 L54.45,738.32 L54.94,737.86 L55.42,737.40 L55.89,736.92 L56.35,736.43 L56.80,735.92 L57.24,735.41 L57.66,734.89 L58.08,734.35 L58.48,733.81 L58.86,733.26 L59.23,732.70 L59.59,732.13 L59.93,731.55 L60.25,730.97 L60.55,730.38 L60.84,729.78 L61.10,729.18 L61.35,728.58 L61.58,727.97 L61.80,727.35 L62.00,726.73 L62.19,726.11 L62.37,725.48 L62.53,724.85 L62.69,724.21 L62.84,723.58 L62.98,722.94 L63.12,722.30 L63.25,721.66 L63.37,721.02 L63.50,720.37 L63.62,719.73 L63.74,719.09 L63.86,718.44 L63.98,717.80 L64.10,717.16 L64.22,716.51 L64.34,715.87 L64.46,715.22 L64.57,714.58 L64.69,713.93 L64.81,713.29 L64.92,712.64 L65.04,712.00 L65.15,711.35 L65.26,710.71 L65.37,710.06 L65.49,709.41 L65.60,708.77 L65.71,708.12 L65.82,707.48 L65.92,706.83 L66.03,706.18 L66.14,705.54 L66.25,704.89 L66.35,704.24 L66.46,703.59 L66.56,702.95 L66.67,702.30 L66.77,701.65 L66.87,701.00 L66.98,700.36 L67.08,699.71 L67.18,699.06 L67.28,698.41 L67.38,697.76 L67.48,697.12 L67.58,696.47 L67.67,695.82 L67.77,695.17 L67.87,694.52 L67.96,693.87 L68.06,693.22 L68.15,692.57 L68.25,691.92 L68.34,691.27 L68.43,690.62 L68.52,689.97 L68.62,689.32 L68.71,688.67 L68.80,688.02 L68.89,687.37 L68.98,686.72 L69.06,686.07 L69.15,685.42 L69.24,684.77 L69.32,684.12 L69.41,683.47 L69.50,682.82 L69.58,682.17 L69.66,681.52 L69.75,680.86 L69.83,680.21 L69.91,679.56 L69.99,678.91 L70.07,678.26 L70.15,677.61 L70.23,676.96 L70.31,676.30 L70.39,675.65 L70.47,675.00 L70.55,674.35 L70.62,673.70 L70.70,673.04 L70.78,672.39 L70.85,671.74 L70.92,671.09 L71.00,670.43 L71.07,669.78 L71.14,669.13 L71.22,668.48 L71.29,667.82 L71.36,667.17 L71.43,666.52 L71.50,665.86 L71.57,665.21 L71.64,664.56 L71.70,663.90 L71.77,663.25 L71.84,662.60 L71.90,661.95 L71.97,661.29 L72.03,660.64 L72.10,659.99 L72.16,659.33 L72.23,658.68 L72.29,658.02 L72.35,657.37 L72.41,656.72 L72.48,656.06 L72.54,655.41 L72.60,654.76 L72.66,654.10 L72.72,653.45 L72.78,652.80 L72.84,652.14 L72.89,651.49 L72.95,650.83 L73.01,650.18 L73.07,649.53 L73.13,648.87 L73.18,648.22 L73.24,647.56 L73.30,646.91 L73.35,646.26 L73.41,645.60 L73.46,644.95 L73.52,644.29 L73.57,643.64 L73.63,642.99 L73.68,642.33 L73.74,641.68 L73.79,641.02 L73.85,640.37 L73.90,639.72 L73.95,639.06 L74.01,638.41 L74.06,637.75 L74.12,637.10 L74.17,636.44 L74.22,635.79 L74.28,635.14 L74.33,634.48 L74.39,633.83 L74.44,633.17 L74.49,632.52 L74.55,631.87 L74.60,631.21 L74.65,630.56 L74.71,629.90 L74.76,629.25 L74.82,628.60 L74.87,627.94 L74.92,627.29 L74.98,626.64 L75.03,625.98 L75.09,625.33 L75.14,624.67 L75.20,624.02 L75.25,623.37 L75.31,622.71 L75.37,622.06 L75.42,621.41 L75.48,620.75 L75.54,620.10 L75.59,619.45 L75.65,618.79 L75.71,618.14 L75.77,617.49 L75.82,616.83 L75.88,616.18 L75.94,615.53 L76.00,614.87 L76.06,614.22 L76.12,613.57 L76.18,612.92 L76.24,612.26 L76.31,611.61 L76.37,610.96 L76.43,610.31 L76.49,609.65 L76.56,609.00 L76.62,608.35 L76.69,607.70 L76.75,607.04 L76.82,606.39 L76.88,605.74 L76.95,605.09 L77.02,604.44 L77.09,603.78 L77.16,603.13 L77.23,602.48 L77.30,601.83 L77.37,601.18 L77.44,600.53 L77.51,599.87 L77.59,599.22 L77.66,598.57 L77.73,597.92 L77.81,597.27 L77.89,596.62 L77.96,595.97 L78.04,595.32 L78.12,594.67 L78.20,594.02 L78.28,593.37 L78.36,592.72 L78.44,592.07 L78.52,591.42 L78.61,590.77 L78.69,590.12 L78.78,589.47 L78.87,588.82 L78.95,588.17 L79.04,587.52 L79.14,586.87 L79.23,586.22 L79.33,585.57 L79.44,584.92 L79.55,584.27 L79.67,583.61 L79.79,582.96 L79.93,582.31 L80.07,581.65 L80.23,580.99 L80.40,580.33 L80.58,579.67 L80.77,579.01 L80.98,578.34 L81.20,577.68 L81.44,577.01 L81.69,576.35 L81.97,575.74 L82.26,575.21 L82.58,574.80 L82.91,574.53 L83.27,574.46 L83.65,574.57 L84.04,574.85 L84.43,575.26 L84.80,575.78 L85.16,576.37 L85.47,577.01 L85.74,577.65 L85.97,578.31 L86.17,578.97 L86.35,579.64 L86.51,580.32 L86.67,581.01 L86.83,581.71 L87.01,582.43 L87.21,583.16 L87.45,583.90 L87.72,584.65 L88.04,585.40 L88.38,586.10 L88.75,586.73 L89.14,587.27 L89.54,587.67 L89.95,587.92 L90.36,587.98 L90.77,587.84 L91.17,587.52 L91.57,587.06 L91.96,586.47 L92.35,585.79 L92.74,585.05 L93.12,584.27 L93.49,583.49 L93.86,582.72 L94.22,582.01 L94.58,581.37 L94.93,580.84 L95.28,580.44 L95.62,580.20 L95.95,580.15 L96.28,580.32 L96.60,580.66 L96.90,581.13 L97.19,581.69 L97.47,582.28 L97.72,582.87 L97.96,583.48 L98.18,584.08 L98.39,584.70 L98.58,585.32 L98.76,585.94 L98.92,586.57 L99.07,587.20 L99.21,587.84 L99.34,588.48 L99.46,589.13 L99.56,589.78 L99.66,590.43 L99.75,591.08 L99.84,591.74 L99.92,592.40 L99.99,593.06 L100.06,593.72 L100.12,594.38 L100.18,595.05 L100.24,595.71 L100.30,596.38 L100.35,597.04 L100.41,597.71 L100.46,598.37 L100.52,599.04 L100.58,599.70 L100.65,600.36 L100.72,601.02 L100.79,601.68 L100.86,602.34 L100.94,603.00 L101.02,603.65 L101.10,604.31 L101.19,604.96 L101.28,605.62 L101.36,606.27 L101.46,606.92 L101.55,607.57 L101.65,608.22 L101.74,608.87 L101.84,609.51 L101.94,610.16 L102.04,610.81 L102.14,611.45 L102.24,612.10 L102.34,612.75 L102.44,613.39 L102.54,614.04 L102.64,614.68 L102.75,615.32 L102.85,615.97 L102.95,616.61 L103.04,617.26 L103.14,617.90 L103.24,618.55 L103.33,619.19 L103.43,619.84 L103.52,620.48 L103.61,621.13 L103.70,621.78 L103.78,622.42 L103.87,623.07 L103.95,623.72 L104.03,624.37 L104.10,625.01 L104.17,625.66 L104.24,626.32 L104.31,626.97 L104.37,627.62 L104.43,628.27 L104.49,628.92 L104.55,629.58 L104.60,630.23 L104.66,630.89 L104.71,631.54 L104.76,632.20 L104.81,632.85 L104.86,633.51 L104.91,634.17 L104.96,634.82 L105.01,635.48 L105.06,636.14 L105.11,636.79 L105.15,637.45 L105.20,638.11 L105.25,638.76 L105.31,639.42 L105.36,640.08 L105.41,640.73 L105.47,641.39 L105.53,642.04 L105.58,642.70 L105.65,643.35 L105.71,644.01 L105.78,644.66 L105.84,645.32 L105.92,645.97 L105.99,646.63 L106.07,647.28 L106.15,647.93 L106.24,648.58 L106.33,649.23 L106.42,649.88 L106.52,650.53 L106.62,651.18 L106.73,651.83 L106.84,652.47 L106.95,653.12 L107.08,653.76 L107.20,654.41 L107.34,655.05 L107.47,655.69 L107.61,656.33 L107.75,656.97 L107.89,657.61 L108.03,658.25 L108.17,658.89 L108.30,659.53 L108.43,660.17 L108.55,660.82 L108.67,661.46 L108.78,662.10 L108.88,662.74 L108.98,663.39 L109.07,664.03 L109.15,664.68 L109.23,665.32 L109.31,665.97 L109.38,666.61 L109.45,667.26 L109.51,667.91 L109.57,668.56 L109.63,669.21 L109.69,669.86 L109.74,670.51 L109.79,671.16 L109.85,671.81 L109.90,672.46 L109.95,673.12 L110.01,673.77 L110.06,674.42 L110.12,675.08 L110.18,675.73 L110.24,676.39 L110.30,677.05 L110.37,677.70 L110.44,678.36 L110.52,679.02 L110.60,679.68 L110.68,680.34 L110.77,681.00 L110.87,681.65 L110.97,682.31 L111.07,682.97 L111.18,683.63 L111.29,684.29 L111.41,684.95 L111.53,685.61 L111.65,686.27 L111.77,686.92 L111.90,687.58 L112.02,688.23 L112.15,688.88 L112.28,689.53 L112.41,690.18 L112.55,690.83 L112.68,691.47 L112.81,692.12 L112.95,692.76 L113.08,693.40 L113.22,694.04 L113.35,694.68 L113.49,695.31 L113.63,695.95 L113.76,696.58 L113.90,697.21 L114.04,697.85 L114.19,698.48 L114.33,699.11 L114.47,699.74 L114.61,700.37 L114.76,700.99 L114.90,701.62 L115.05,702.25 L115.20,702.88 L115.34,703.50 L115.49,704.13 L115.64,704.76 L115.79,705.39 L115.94,706.01 L116.10,706.64 L116.25,707.27 L116.40,707.90 L116.56,708.52 L116.72,709.15 L116.87,709.78 L117.03,710.41 L117.19,711.05 L117.35,711.68 L117.51,712.31 L117.67,712.95 L117.84,713.58 L118.00,714.22 L118.17,714.86 L118.33,715.50 L118.50,716.14 L118.67,716.78 L118.84,717.42 L119.01,718.07 L119.18,718.72 L119.36,719.37 L119.53,720.02 L119.71,720.67 L119.89,721.33 L120.07,721.98 L120.25,722.64 L120.43,723.30 L120.62,723.95 L120.82,724.61 L121.01,725.26 L121.22,725.90 L121.43,726.55 L121.64,727.19 L121.86,727.83 L122.09,728.46 L122.33,729.08 L122.58,729.70 L122.83,730.31 L123.09,730.91 L123.37,731.51 L123.65,732.09 L123.95,732.67 L124.25,733.23 L124.57,733.79 L124.90,734.33 L125.24,734.86 L125.60,735.38 L125.97,735.89 L126.35,736.38 L126.75,736.85 L127.16,737.31 L127.59,737.76 L128.04,738.19 L128.50,738.60 L128.98,738.99 L129.48,739.37 L130.00,739.73 L130.53,740.06 L131.09,740.38 L131.66,740.68 L132.25,740.95 L132.86,741.21 L133.49,741.45 L134.12,741.67 L134.77,741.87 L135.43,742.06 L136.10,742.23 L136.78,742.39 L137.46,742.53 L138.15,742.66 L138.84,742.77 L139.53,742.88 L140.22,742.97 L140.91,743.05 L141.60,743.12 L142.28,743.19 L142.95,743.24 L143.62,743.29 L144.27,743.33 L144.92,743.36 L145.55,743.39 L146.17,743.41 L146.77,743.43 L147.35,743.44 L147.92,743.45" fill="none" stroke="#000" stroke-width="2.25" stroke-linejoin="round"/>
<path d="M46.03,743.62 L46.78,743.59 L47.50,743.51 L48.21,743.41 L48.90,743.27 L49.56,743.09 L50.22,742.89 L50.86,742.66 L51.49,742.40 L52.11,742.12 L52.73,741.82 L53.34,741.50 L53.94,741.16 L54.54,740.80 L55.14,740.42 L55.72,740.03 L56.31,739.62 L56.88,739.19 L57.45,738.75 L58.01,738.29 L58.56,737.82 L59.10,737.34 L59.63,736.84 L60.16,736.34 L60.67,735.82 L61.18,735.28 L61.67,734.74 L62.15,734.19 L62.62,733.63 L63.08,733.07 L63.53,732.49 L63.97,731.91 L64.39,731.32 L64.80,730.72 L65.19,730.12 L65.57,729.52 L65.94,728.91 L66.30,728.29 L66.64,727.67 L66.98,727.05 L67.30,726.42 L67.61,725.79 L67.91,725.15 L68.19,724.51 L68.47,723.87 L68.74,723.22 L69.00,722.57 L69.25,721.91 L69.49,721.25 L69.73,720.59 L69.95,719.93 L70.17,719.26 L70.38,718.59 L70.59,717.91 L70.79,717.24 L70.98,716.56 L71.17,715.88 L71.35,715.20 L71.52,714.51 L71.70,713.83 L71.86,713.14 L72.03,712.45 L72.19,711.76 L72.34,711.07 L72.50,710.38 L72.65,709.68 L72.80,708.99 L72.95,708.29 L73.10,707.60 L73.24,706.90 L73.39,706.21 L73.53,705.51 L73.68,704.81 L73.83,704.12 L73.97,703.42 L74.12,702.72 L74.27,702.03 L74.42,701.33 L74.57,700.64 L74.72,699.94 L74.88,699.25 L75.03,698.55 L75.19,697.86 L75.35,697.17 L75.50,696.47 L75.66,695.78 L75.82,695.09 L75.98,694.40 L76.15,693.71 L76.31,693.01 L76.47,692.32 L76.64,691.63 L76.80,690.94 L76.97,690.25 L77.13,689.56 L77.30,688.87 L77.47,688.18 L77.64,687.49 L77.80,686.80 L77.97,686.11 L78.14,685.42 L78.31,684.74 L78.48,684.05 L78.66,683.36 L78.83,682.67 L79.00,681.98 L79.17,681.29 L79.35,680.61 L79.52,679.92 L79.69,679.23 L79.87,678.54 L80.04,677.86 L80.22,677.17 L80.39,676.48 L80.57,675.79 L80.74,675.11 L80.92,674.42 L81.09,673.73 L81.27,673.05 L81.44,672.36 L81.62,671.67 L81.79,670.98 L81.97,670.30 L82.14,669.61 L82.32,668.92 L82.49,668.24 L82.67,667.55 L82.84,666.86 L83.02,666.17 L83.19,665.49 L83.36,664.80 L83.54,664.11 L83.71,663.43 L83.88,662.74 L84.06,662.05 L84.23,661.36 L84.40,660.68 L84.57,659.99 L84.74,659.30 L84.91,658.61 L85.08,657.92 L85.25,657.23 L85.42,656.55 L85.59,655.86 L85.76,655.17 L85.92,654.48 L86.09,653.79 L86.25,653.10 L86.42,652.41 L86.58,651.72 L86.74,651.03 L86.91,650.34 L87.07,649.65 L87.23,648.96 L87.39,648.27 L87.55,647.58 L87.70,646.89 L87.86,646.19 L88.02,645.50 L88.17,644.81 L88.32,644.12 L88.47,643.42 L88.63,642.73 L88.78,642.04 L88.92,641.34 L89.07,640.65 L89.22,639.95 L89.36,639.26 L89.51,638.56 L89.65,637.87 L89.79,637.17 L89.93,636.47 L90.07,635.78 L90.21,635.08 L90.34,634.38 L90.48,633.68 L90.61,632.99 L90.75,632.29 L90.88,631.59 L91.01,630.89 L91.15,630.19 L91.28,629.49 L91.41,628.80 L91.55,628.10 L91.68,627.40 L91.81,626.70 L91.95,626.00 L92.08,625.31 L92.22,624.61 L92.35,623.91 L92.49,623.22 L92.63,622.52 L92.77,621.83 L92.91,621.13 L93.05,620.44 L93.20,619.74 L93.34,619.05 L93.49,618.36 L93.64,617.66 L93.79,616.97 L93.94,616.28 L94.10,615.59 L94.26,614.90 L94.42,614.22 L94.58,613.53 L94.75,612.84 L94.91,612.16 L95.09,611.47 L95.26,610.79 L95.44,610.11 L95.62,609.43 L95.81,608.75 L95.99,608.07 L96.19,607.39 L96.38,606.72 L96.58,606.04 L96.79,605.37 L96.99,604.70 L97.21,604.03 L97.42,603.36 L97.64,602.69 L97.87,602.02 L98.10,601.36 L98.34,600.70 L98.58,600.04 L98.82,599.38 L99.08,598.72 L99.33,598.07 L99.59,597.41 L99.86,596.76 L100.14,596.11 L100.41,595.46 L100.70,594.82 L100.99,594.17 L101.29,593.53 L101.59,592.89 L101.90,592.26 L102.22,591.62 L102.54,590.99 L102.87,590.36 L103.21,589.73 L103.56,589.10 L103.91,588.48 L104.27,587.86 L104.63,587.24 L105.00,586.62 L105.38,586.01 L105.77,585.39 L106.16,584.78 L106.55,584.17 L106.94,583.56 L107.34,582.95 L107.75,582.34 L108.15,581.73 L108.56,581.11 L108.97,580.50 L109.38,579.89 L109.79,579.27 L110.19,578.66 L110.60,578.04 L111.01,577.44 L111.43,576.86 L111.85,576.32 L112.28,575.83 L112.73,575.39 L113.19,575.03 L113.66,574.76 L114.16,574.58 L114.67,574.50 L115.21,574.54 L115.76,574.67 L116.32,574.89 L116.88,575.19 L117.44,575.56 L117.99,575.98 L118.53,576.45 L119.04,576.95 L119.54,577.48 L120.01,578.03 L120.46,578.60 L120.89,579.19 L121.30,579.79 L121.69,580.40 L122.07,581.03 L122.45,581.66 L122.81,582.29 L123.16,582.93 L123.52,583.57 L123.86,584.21 L124.21,584.85 L124.55,585.49 L124.88,586.14 L125.22,586.78 L125.54,587.43 L125.87,588.07 L126.19,588.72 L126.51,589.37 L126.82,590.02 L127.13,590.67 L127.44,591.32 L127.74,591.97 L128.04,592.62 L128.33,593.27 L128.62,593.93 L128.91,594.58 L129.20,595.24 L129.48,595.89 L129.76,596.55 L130.04,597.21 L130.31,597.86 L130.58,598.52 L130.85,599.18 L131.11,599.84 L131.38,600.50 L131.63,601.17 L131.89,601.83 L132.14,602.49 L132.39,603.15 L132.64,603.82 L132.89,604.48 L133.13,605.15 L133.37,605.82 L133.61,606.48 L133.84,607.15 L134.08,607.82 L134.31,608.49 L134.54,609.16 L134.76,609.83 L134.99,610.50 L135.21,611.17 L135.43,611.84 L135.65,612.51 L135.87,613.19 L136.08,613.86 L136.29,614.53 L136.51,615.21 L136.72,615.88 L136.92,616.56 L137.13,617.23 L137.33,617.91 L137.54,618.58 L137.74,619.26 L137.94,619.94 L138.14,620.62 L138.33,621.29 L138.53,621.97 L138.73,622.65 L138.92,623.33 L139.11,624.01 L139.30,624.69 L139.49,625.37 L139.68,626.05 L139.87,626.73 L140.06,627.41 L140.25,628.09 L140.43,628.77 L140.62,629.46 L140.80,630.14 L140.99,630.82 L141.17,631.50 L141.35,632.19 L141.53,632.87 L141.72,633.55 L141.90,634.24 L142.08,634.92 L142.26,635.61 L142.44,636.29 L142.62,636.97 L142.80,637.66 L142.98,638.34 L143.16,639.03 L143.34,639.71 L143.52,640.40 L143.70,641.08 L143.88,641.77 L144.06,642.46 L144.24,643.14 L144.43,643.83 L144.61,644.51 L144.79,645.20 L144.97,645.88 L145.16,646.57 L145.34,647.25 L145.52,647.94 L145.71,648.63 L145.89,649.31 L146.08,650.00 L146.26,650.68 L146.45,651.37 L146.64,652.05 L146.83,652.74 L147.02,653.42 L147.21,654.11 L147.40,654.79 L147.59,655.48 L147.78,656.16 L147.98,656.85 L148.17,657.53 L148.37,658.21 L148.56,658.90 L148.76,659.58 L148.96,660.26 L149.16,660.95 L149.36,661.63 L149.56,662.31 L149.76,662.99 L149.97,663.67 L150.17,664.35 L150.38,665.03 L150.59,665.71 L150.80,666.39 L151.01,667.07 L151.22,667.75 L151.43,668.43 L151.65,669.11 L151.86,669.78 L152.08,670.46 L152.30,671.14 L152.52,671.81 L152.75,672.49 L152.97,673.16 L153.20,673.84 L153.42,674.51 L153.65,675.18 L153.88,675.85 L154.12,676.52 L154.35,677.19 L154.59,677.86 L154.83,678.53 L155.07,679.20 L155.31,679.87 L155.55,680.54 L155.80,681.20 L156.05,681.87 L156.30,682.53 L156.55,683.19 L156.80,683.86 L157.06,684.52 L157.32,685.18 L157.58,685.84 L157.84,686.50 L158.10,687.16 L158.37,687.81 L158.64,688.47 L158.91,689.13 L159.19,689.78 L159.46,690.43 L159.74,691.09 L160.02,691.74 L160.31,692.39 L160.59,693.04 L160.88,693.69 L161.18,694.33 L161.47,694.98 L161.77,695.62 L162.07,696.27 L162.37,696.91 L162.67,697.55 L162.98,698.19 L163.29,698.83 L163.60,699.47 L163.92,700.10 L164.24,700.74 L164.56,701.37 L164.88,702.01 L165.21,702.64 L165.54,703.27 L165.88,703.90 L166.21,704.52 L166.55,705.15 L166.89,705.77 L167.24,706.40 L167.59,707.02 L167.94,707.64 L168.30,708.26 L168.66,708.88 L169.02,709.49 L169.39,710.10 L169.76,710.70 L170.14,711.31 L170.53,711.90 L170.92,712.49 L171.32,713.07 L171.73,713.65 L172.15,714.22 L172.57,714.77 L173.01,715.32 L173.45,715.86 L173.91,716.39 L174.37,716.91 L174.85,717.42 L175.34,717.91 L175.84,718.39 L176.36,718.86 L176.88,719.31 L177.43,719.75 L177.98,720.17 L178.55,720.58 L179.14,720.97 L179.74,721.35 L180.35,721.70 L180.98,722.05 L181.62,722.38 L182.26,722.71 L182.92,723.02 L183.58,723.32 L184.25,723.61 L184.92,723.90 L185.60,724.18 L186.28,724.45 L186.96,724.72 L187.64,724.99 L188.32,725.25 L189.00,725.52 L189.68,725.78 L190.35,726.05 L191.02,726.32 L191.68,726.59 L192.33,726.86 L192.98,727.14 L193.62,727.43 L194.25,727.72 L194.89,728.01 L195.51,728.31 L196.14,728.61 L196.76,728.92 L197.37,729.24 L197.99,729.57 L198.60,729.90 L199.21,730.23 L199.83,730.58 L200.44,730.93 L201.05,731.29 L201.66,731.65 L202.27,732.02 L202.89,732.39 L203.50,732.76 L204.12,733.14 L204.73,733.51 L205.35,733.88 L205.97,734.25 L206.60,734.61 L207.22,734.96 L207.85,735.31 L208.48,735.66 L209.12,735.99 L209.76,736.31 L210.40,736.62 L211.05,736.92 L211.69,737.20 L212.35,737.48 L213.00,737.74 L213.66,737.99 L214.33,738.24 L214.99,738.47 L215.66,738.69 L216.33,738.90 L217.01,739.10 L217.68,739.30 L218.36,739.48 L219.05,739.66 L219.73,739.82 L220.42,739.98 L221.11,740.13 L221.80,740.28 L222.49,740.41 L223.19,740.54 L223.88,740.67 L224.58,740.78 L225.28,740.90 L225.98,741.00 L226.68,741.10 L227.39,741.20 L228.09,741.29 L228.80,741.37 L229.51,741.45 L230.22,741.53 L230.92,741.60 L231.63,741.67 L232.34,741.74 L233.05,741.80 L233.76,741.86 L234.47,741.92 L235.19,741.98 L235.90,742.04 L236.61,742.09 L237.32,742.14 L238.03,742.20 L238.74,742.25 L239.45,742.30 L240.16,742.35 L240.87,742.40 L241.57,742.45 L242.28,742.51 L242.98,742.56 L243.69,742.62 L244.39,742.68 L245.09,742.73 L245.80,742.80 L246.49,742.86" fill="none" stroke="#ff0000" stroke-width="2.25" stroke-linejoin="round"/>
<line x1="82.10" y1="566.20" x2="107.80" y2="566.20" stroke="#000" stroke-width="1.8"/>
<polygon points="115.80,566.20 106.80,563.40 106.80,569.00" fill="#000" stroke="none"/>
<text font-size="16.2" fill="#0a14f5" stroke="#0a14f5" stroke-width="0.25" transform="translate(168.65,0) scale(1.025,1) translate(-168.65,0)"><tspan x="168.65" y="660.5">partially</tspan><tspan x="168.65" y="681.0">crosslinked</tspan><tspan x="168.65" y="700.9">polycycles</tspan></text>
</g>
</svg>
</body></html>
